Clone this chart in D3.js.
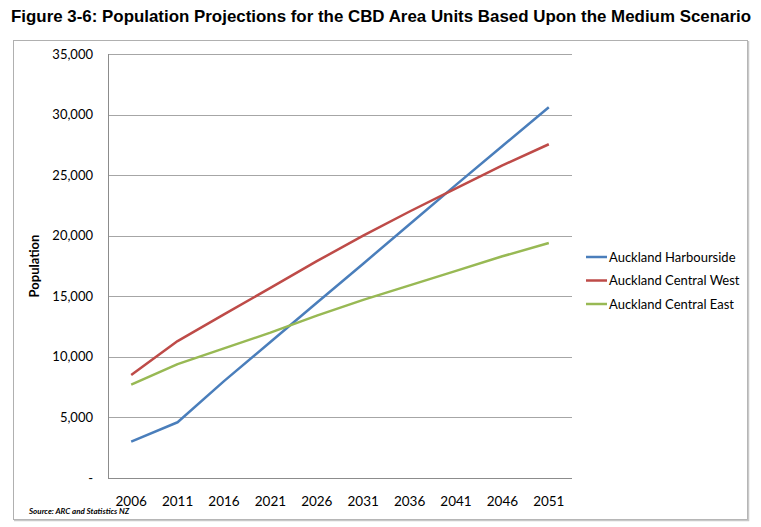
<!DOCTYPE html>
<html>
<head>
<meta charset="utf-8">
<script src="https://cdn.jsdelivr.net/npm/d3@7"></script>
<style>
  body { margin: 0; background: #fff; }
  svg { display: block; }
</style>
</head>
<body>
<svg id="chart" width="761" height="527"></svg>
<script>
const years = ["2006", "2011", "2016", "2021", "2026", "2031", "2036", "2041", "2046", "2051"];
const harbourside = [3000, 4600, 8000, 11230, 14460, 17690, 20950, 24200, 27400, 30600];
const centralWest = [8500, 11300, 13500, 15700, 17900, 20000, 22000, 23900, 25800, 27550];
const centralEast = [7700, 9400, 10700, 12000, 13400, 14700, 15900, 17100, 18300, 19400];
const seriesNames = ["Auckland Harbourside", "Auckland Central West", "Auckland Central East"];
const yTicks = [0, 5000, 10000, 15000, 20000, 25000, 30000, 35000];

const colors = ["#4a7ebb", "#be4b48", "#98b954"];
const allSeries = [harbourside, centralWest, centralEast];

const svg = d3.select("#chart");
const margins = { left: 108, right: 189, top: 54, bottom: 49 };
const W = +svg.attr("width"), H = +svg.attr("height");

// title
svg.append("text")
    .attr("x", 11).attr("y", 22)
    .attr("font-family", "Liberation Sans, Arial, sans-serif")
    .attr("font-weight", "bold")
    .attr("font-size", 16.5)
    .attr("textLength", 740)
    .attr("lengthAdjust", "spacingAndGlyphs")
    .attr("fill", "#000")
    .text("Figure 3-6: Population Projections for the CBD Area Units Based Upon the Medium Scenario");

// outer frame
svg.append("rect")
    .attr("x", 13.5).attr("y", 40.5)
    .attr("width", 734).attr("height", 479)
    .attr("fill", "none")
    .attr("stroke", "#b0b0b0")
    .attr("stroke-width", 1);
svg.append("path")
    .attr("d", "M748.5,41 V520.5 H14")
    .attr("fill", "none")
    .attr("stroke", "#c8c8c8")
    .attr("stroke-width", 1.5);

const x = d3.scaleBand()
    .domain(years)
    .range([margins.left, W - margins.right]);

const y = d3.scaleLinear()
    .domain([0, 35000])
    .range([H - margins.bottom, margins.top]);

const g = svg.append("g");

// gridlines
g.selectAll(".grid")
    .data(yTicks.filter(d => d > 0))
    .enter()
    .append("line")
    .attr("class", "grid")
    .attr("x1", margins.left)
    .attr("x2", W - margins.right)
    .attr("y1", d => Math.round(y(d)) + 0.5)
    .attr("y2", d => Math.round(y(d)) + 0.5)
    .attr("stroke", "#a6a6a6")
    .attr("stroke-width", 1);

// axis lines
g.append("line")
    .attr("x1", margins.left + 0.5).attr("x2", margins.left + 0.5)
    .attr("y1", y(35000)).attr("y2", Math.round(y(0)) + 0.5)
    .attr("stroke", "#8c8c8c");
g.append("line")
    .attr("x1", margins.left).attr("x2", W - margins.right)
    .attr("y1", Math.round(y(0)) + 0.5).attr("y2", Math.round(y(0)) + 0.5)
    .attr("stroke", "#8c8c8c");

// y tick labels
g.selectAll(".ylab")
    .data(yTicks)
    .enter()
    .append("text")
    .attr("class", "ylab")
    .attr("x", 93)
    .attr("y", d => y(d))
    .attr("dy", "0.35em")
    .attr("text-anchor", "end")
    .attr("font-family", "Lato, Open Sans, sans-serif")
    .attr("font-size", 13)
    .attr("fill", "#000")
    .text(d => d === 0 ? "-" : d3.format(",")(d));

// x tick labels
g.selectAll(".xlab")
    .data(years)
    .enter()
    .append("text")
    .attr("class", "xlab")
    .attr("x", d => x(d) + x.bandwidth() / 2)
    .attr("y", 506)
    .attr("text-anchor", "middle")
    .attr("font-family", "Lato, Open Sans, sans-serif")
    .attr("font-size", 13.5)
    .attr("fill", "#000")
    .text(d => d);

// y axis title
svg.append("text")
    .attr("transform", "translate(39,266) rotate(-90)")
    .attr("text-anchor", "middle")
    .attr("font-family", "Lato, Open Sans, sans-serif")
    .attr("font-weight", "bold")
    .attr("font-size", 13)
    .attr("fill", "#000")
    .text("Population");

// source
svg.append("text")
    .attr("x", 29).attr("y", 514)
    .attr("font-family", "Lato, Open Sans, sans-serif")
    .attr("font-weight", "bold")
    .attr("font-style", "italic")
    .attr("font-size", 8)
    .attr("fill", "#000")
    .text("Source: ARC and Statistics NZ");

// lines
const line = d3.line()
    .x((d, i) => x(years[i]) + x.bandwidth() / 2)
    .y(d => y(d));

allSeries.forEach((s, i) => {
    g.append("path")
        .datum(s)
        .attr("d", line)
        .attr("fill", "none")
        .attr("stroke", colors[i])
        .attr("stroke-width", 2.5)
        .attr("stroke-linejoin", "round");
});

// legend
let currentY = 257;
seriesNames.forEach((name, i) => {
    svg.append("line")
        .attr("x1", 586).attr("x2", 607)
        .attr("y1", currentY).attr("y2", currentY)
        .attr("stroke", colors[i])
        .attr("stroke-width", 2.5);
    svg.append("text")
        .attr("x", 609)
        .attr("y", currentY)
        .attr("dy", "0.35em")
        .attr("font-family", "Lato, Open Sans, sans-serif")
        .attr("font-size", 13)
        .attr("fill", "#000")
        .text(name);
    currentY += 23.5;
});
</script>
</body>
</html>
